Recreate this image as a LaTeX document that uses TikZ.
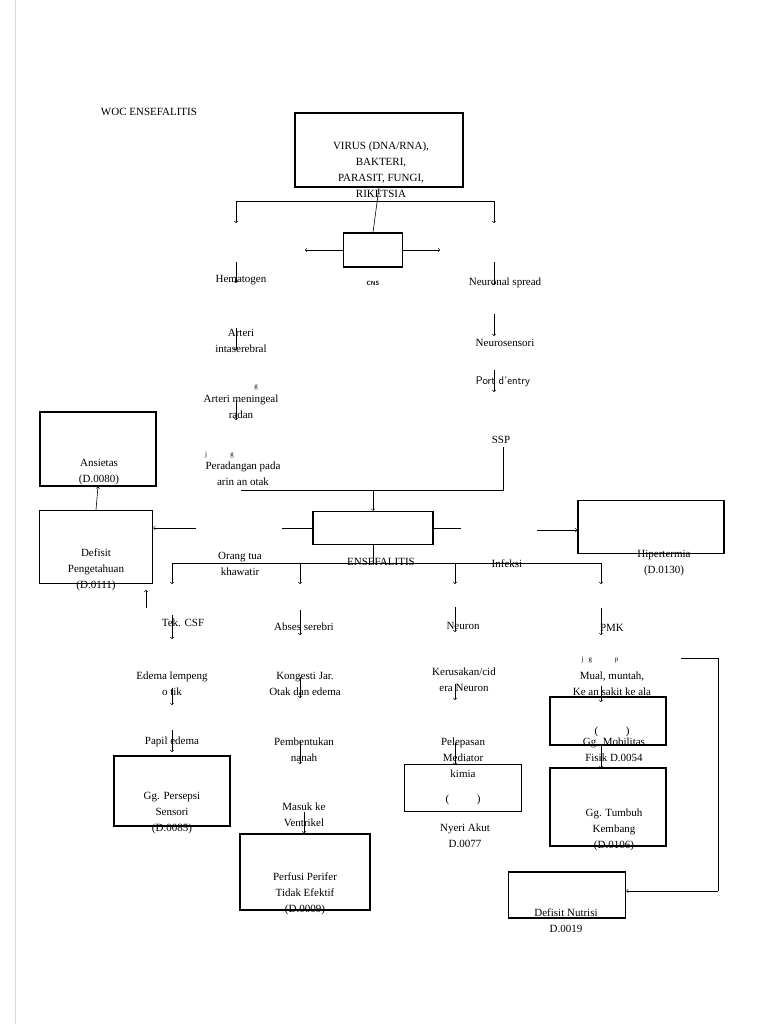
\documentclass[tikz,border=0pt]{standalone}
\usepackage{fontspec}
\setmainfont{Liberation Serif}
\begin{document}
\begin{tikzpicture}[x=1pt,y=1pt,yscale=-1,xscale=1,
  box/.style={draw,line width=1.4pt,inner sep=0pt},
  txt/.style={inner sep=0.75pt,font=\fontsize{11}{13}\selectfont,align=center},
  arr/.style={->,>=to,line width=0.6pt},
  ln/.style={line width=0.6pt}]
\useasboundingbox (0,0) rectangle (768,1024);
\draw[gray!30,line width=0.5pt] (15,0) -- (15,1024);

%Title
\node[txt,anchor=west] (title) at (100,112) {WOC ENSEFALITIS};

%Boxes
\node[box,minimum width=168,minimum height=74] (virus) at (379,150) {};
\node[box,minimum width=59,minimum height=34] (cns) at (373,250) {};
\node[box,minimum width=116,minimum height=74] (ansietas) at (98,449) {};
\node[box,minimum width=113,minimum height=73] (defisit) at (96,547) {};
\node[box,minimum width=120,minimum height=33] (ensef) at (373,528) {};
\node[box,minimum width=146,minimum height=53] (hiper) at (651,527) {};
\node[box,minimum width=116,minimum height=70] (persepsi) at (172,791) {};
\node[box,minimum width=130,minimum height=76] (perfusi) at (305,872) {};
\node[box,minimum width=117,minimum height=47] (mediator) at (463,788) {};
\node[box,minimum width=116,minimum height=48] (mobilitas) at (608,721) {};
\node[box,minimum width=116,minimum height=78] (tumbuh) at (608,807) {};
\node[box,minimum width=117,minimum height=46] (nutrisi) at (567,895) {};

%Texts
\node[txt] (virustxt) at (381,170) {VIRUS (DNA/RNA),\\[3pt]BAKTERI,\\[3pt]PARASIT, FUNGI,\\[3pt]RIKETSIA};
\node[txt,font=\fontsize{6}{7}\sffamily\bfseries] (cnstxt) at (373,283) {CNS};
\node[txt] (hemato) at (241,280) {Hematogen};
\node[txt] (neuronal) at (505,283) {Neuronal spread};
\node[txt] (arteri) at (241,341) {Arteri\\[3pt]intaserebral};
\node[txt] (neurosens) at (505,343) {Neurosensori};
\node[txt,font=\fontsize{11}{13}\sffamily] (port) at (503,382) {Port d'entry};
\node[txt] (mening) at (241,407) {Arteri meningeal\\[3pt]radan};
\node[txt,font=\scriptsize] (g1) at (256,387) {g};
\node[txt] (ssp) at (501,440) {SSP};
\node[txt] (radang) at (243,474) {Peradangan pada\\[3pt]arin an otak};
\node[txt,font=\scriptsize] (j2) at (206,455) {j};
\node[txt,font=\scriptsize] (g2) at (232,455) {g};
\node[txt] (anstxt) at (99,472) {Ansietas\\[3pt](D.0080)};
\node[txt] (deftxt) at (96,570) {Defisit\\[3pt]Pengetahuan\\[3pt](D.0111)};
\node[txt] (ensetxt) at (381,562) {ENSEFALITIS};
\node[txt] (hipertxt) at (664,563) {Hipertermia\\[3pt](D.0130)};
\node[txt] (orang) at (240,564) {Orang tua\\[3pt]khawatir};
\node[txt] (infeksi) at (507,564) {Infeksi};
\node[txt] (csf) at (183,623) {Tek. CSF};
\node[txt] (abses) at (304,627) {Abses serebri};
\node[txt] (neuron) at (463,626) {Neuron};
\node[txt] (pmk) at (612,628) {PMK};
\node[txt] (edema) at (172,684) {Edema lempeng\\[3pt]o tik};
\node[txt] (kongesti) at (305,684) {Kongesti Jar.\\[3pt]Otak dan edema};
\node[txt] (rusak) at (464,680) {Kerusakan/cid\\[3pt]era Neuron};
\node[txt] (mual) at (612,684) {Mual, muntah,\\[3pt]Ke an sakit ke ala};
\node[txt,font=\scriptsize] (sup3) at (600,660) {j \ \ g \qquad\quad p};
\node[txt] (papil) at (172,742) {Papil edema};
\node[txt] (nanah) at (304,750) {Pembentukan\\[3pt]nanah};
\node[txt] (lepas) at (463,758) {Pelepasan\\[3pt]Mediator\\[3pt]kimia};
\node[txt] (kurung1) at (463,800) {(\qquad\ \ )};
\node[txt] (perstxt) at (172,813) {Gg. Persepsi\\[3pt]Sensori\\[3pt](D.0085)};
\node[txt] (masuk) at (304,815) {Masuk ke\\[3pt]Ventrikel};
\node[txt] (perftxt) at (305,894) {Perfusi Perifer\\[3pt]Tidak Efektif\\[3pt](D.0009)};
\node[txt] (nyeri) at (465,836) {Nyeri Akut\\[3pt]D.0077};
\node[txt] (kurung2) at (612,732) {(\qquad\ \ )};
\node[txt] (mobtxt) at (614,750) {Gg. Mobilitas\\[3pt]Fisik D.0054};
\node[txt] (tumtxt) at (614,830) {Gg. Tumbuh\\[3pt]Kembang\\[3pt](D.0106)};
\node[txt] (nuttxt) at (566,921) {Defisit Nutrisi\\[3pt]D.0019};

%Connectors top
\draw[ln] (virus.south) -- (cns.north);
\draw[ln] (236,201) -- (494,201);
\draw[arr] (236,201) -- (236,223);
\draw[arr] (494,201) -- (494,223);
\draw[arr] (cns.west) -- (305,250);
\draw[arr] (cns.east) -- (440,250);
\draw[arr] (236,262) -- (236,283);
\draw[arr] (494,262) -- (494,285);
\draw[arr] (236,328) -- (236,350);
\draw[arr] (494,314) -- (494,336);
\draw[arr] (494,370) -- (494,392);
\draw[arr] (236,400) -- (236,420);
\draw[ln] (503,447) -- (503,490) -- (241,490);
\draw[arr] (373,490) -- (ensef.north);
%Connectors around ENSEFALITIS
\draw[ln] (ensef.west) -- (282,528);
\draw[ln] (ensef.east) -- (461,528);
\draw[arr] (196,528) -- (defisit.east |- 0,528);
\draw[arr] (537,530) -- (hiper.west |- 0,530);
\draw[arr] (defisit.north) -- (ansietas.south);
\draw[ln] (ensef.south) -- (373,563);
\draw[ln] (172,563) -- (601,563);
\foreach \xx in {172,300,455,601} \draw[arr] (\xx,563) -- (\xx,584);
\draw[arr] (146,608) -- (146,590);
%Columns
\draw[arr] (172,615) -- (172,639);
\draw[arr] (300,610) -- (300,635);
\draw[arr] (455,607) -- (455,632);
\draw[arr] (601,608) -- (601,635);
\draw[arr] (172,688) -- (172,705);
\draw[arr] (300,677) -- (300,698);
\draw[arr] (455,684) -- (455,700);
\draw[arr] (601,686) -- (601,702);
\draw[arr] (172,730) -- (172,752);
\draw[arr] (300,741) -- (300,764);
\draw[arr] (455,743) -- (455,765);
\draw[arr] (304,812) -- (perfusi.north -| 304,0);
\draw[arr] (601,745) -- (601,768);
\draw[ln] (681,658) -- (718,658) -- (718,891);
\draw[arr] (718,891) -- (nutrisi.east |- 0,891);
\end{tikzpicture}
\end{document}
